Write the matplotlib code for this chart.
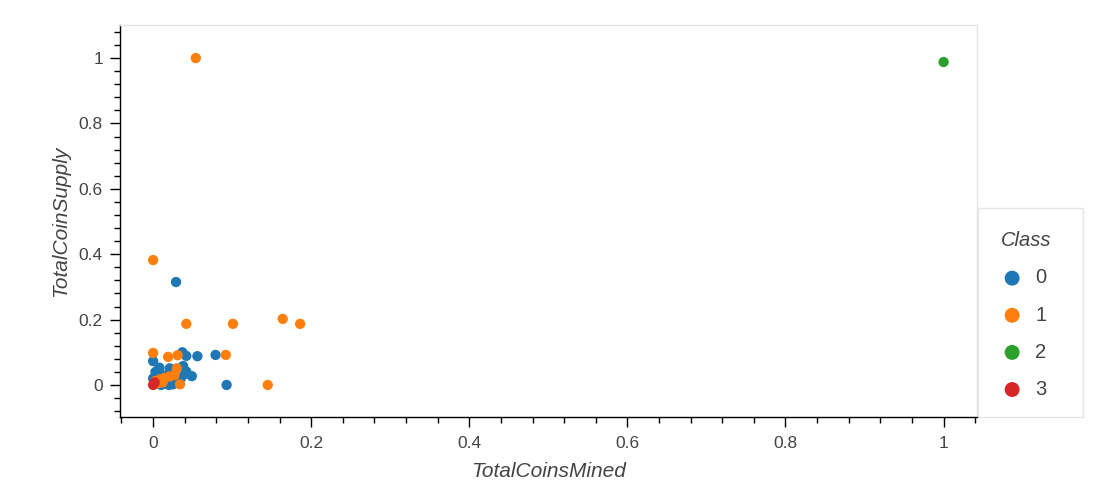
import matplotlib
matplotlib.use("Agg")
import matplotlib.pyplot as plt
from matplotlib.patches import Rectangle
from matplotlib.ticker import MultipleLocator, FuncFormatter

plt.rcParams['font.family'] = ['Liberation Sans', 'DejaVu Sans']

# class 0
x0 = [0.029, 0.037, 0.042, 0.056, 0.079, 0.0, 0.008, 0.021, 0.038, 0.042,
      0.049, 0.026, 0.040, 0.093, 0.0, 0.005, 0.010, 0.015, 0.020, 0.025,
      0.030, 0.012, 0.018, 0.003, 0.035]
y0 = [0.315, 0.100, 0.089, 0.088, 0.092, 0.073, 0.053, 0.051, 0.058, 0.041,
      0.027, 0.038, 0.033, 0.0, 0.020, 0.010, 0.0, 0.005, 0.0, 0.002,
      0.010, 0.030, 0.015, 0.040, 0.020]
# class 1
x1 = [0.054, 0.0, 0.042, 0.101, 0.164, 0.186, 0.0, 0.019, 0.031, 0.092,
      0.030, 0.145, 0.034, 0.003, 0.009, 0.015, 0.021, 0.027, 0.006, 0.012]
y1 = [1.0, 0.382, 0.187, 0.187, 0.202, 0.187, 0.098, 0.086, 0.091, 0.092,
      0.051, 0.0, 0.002, 0.012, 0.018, 0.022, 0.026, 0.030, 0.005, 0.008]
# class 2
x2 = [1.0]
y2 = [0.988]
# class 3
x3 = [0.001, 0.0, 0.002]
y3 = [0.004, 0.0, 0.008]

series = [("0", x0, y0, "#1f77b4"),
          ("1", x1, y1, "#ff7f0e"),
          ("2", x2, y2, "#2ca02c"),
          ("3", x3, y3, "#d62728")]

fig = plt.figure(figsize=(11, 5.04), dpi=100)
ax = fig.add_axes([0.109, 0.1726, 0.779, 0.777])

for name, xs, ys, c in series:
    ax.scatter(xs, ys, s=55, color=c, edgecolors='none', label=name, zorder=3)

ax.set_xlim(-0.042, 1.042)
ax.set_ylim(-0.098, 1.10)

txt = '#444444'
fmt = FuncFormatter(lambda v, p: f"{v:g}" if abs(v) > 1e-9 else "0")
for axis in (ax.xaxis, ax.yaxis):
    axis.set_major_locator(MultipleLocator(0.2))
    axis.set_minor_locator(MultipleLocator(0.04))
    axis.set_major_formatter(fmt)
ax.tick_params(which='major', direction='out', length=7.2, width=1,
               labelsize=12.5, labelcolor=txt, color='black')
ax.tick_params(which='minor', direction='out', length=4.3, width=1, color='black')
ax.tick_params(axis='x', pad=6.5)
ax.tick_params(axis='y', pad=5)

for s in ('left', 'bottom'):
    ax.spines[s].set_color('black')
    ax.spines[s].set_linewidth(1)
for s in ('top', 'right'):
    ax.spines[s].set_color('#e5e5e5')
    ax.spines[s].set_linewidth(1)

ax.set_xlabel("TotalCoinsMined", fontsize=15, style='italic', color=txt, labelpad=8)
ax.set_ylabel("TotalCoinSupply", fontsize=15, style='italic', color=txt, labelpad=6)

# legend box drawn separately so its size matches
fig.patches.append(Rectangle((978 / 1100, 87 / 504), 105 / 1100, 209 / 504,
                             transform=fig.transFigure, facecolor='white',
                             edgecolor='#e5e5e5', linewidth=1, zorder=-1))
leg = ax.legend(title="Class", loc='upper left', bbox_to_anchor=(0.889, 0.587),
                bbox_transform=fig.transFigure, fontsize=14.5, title_fontsize=14.5,
                frameon=False, markerscale=1.45,
                labelspacing=0.9, handletextpad=0.6, borderpad=1.15,
                handlelength=1.1, alignment='left', borderaxespad=0)
leg.get_title().set_style('italic')
leg.get_title().set_color(txt)
for t in leg.get_texts():
    t.set_color(txt)

fig.savefig("out.png", dpi=100)
